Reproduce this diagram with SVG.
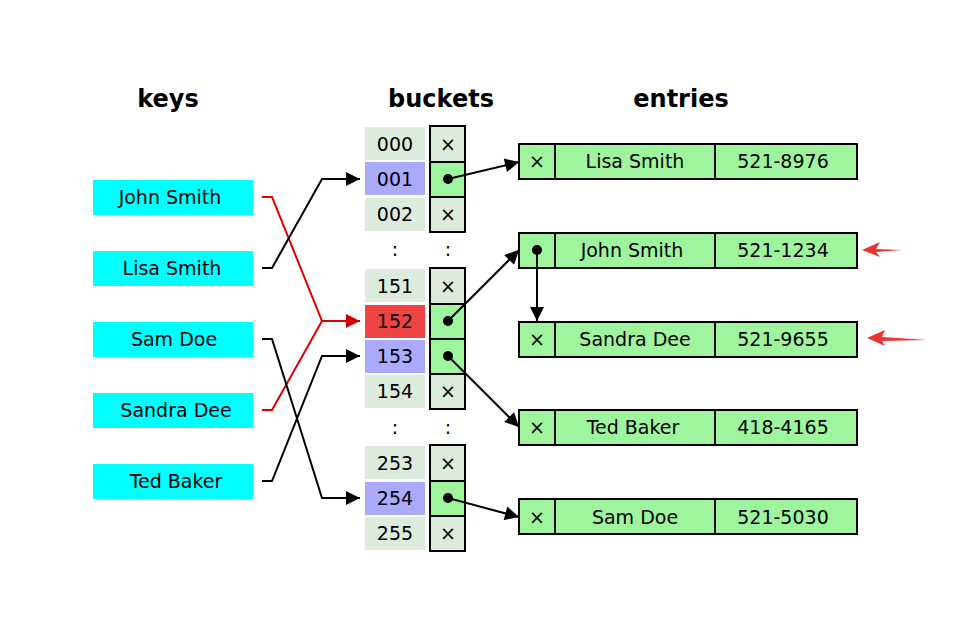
<svg xmlns="http://www.w3.org/2000/svg" width="956" height="617" viewBox="0 0 956 617">
<style>
text{font-family:"DejaVu Sans",sans-serif;font-size:19px;text-anchor:middle;dominant-baseline:central;fill:#000}
.h{font-weight:bold;font-size:24px}
.k{fill:#00ffff}
.b{fill:#dcebdc}.bb{fill:#aaaaff}.br{fill:#ee4444}
.c{fill:#9ef59e;stroke:#000;stroke-width:2}
.l{fill:none;stroke:#000;stroke-width:2}
.r{fill:none;stroke:#dd0000;stroke-width:2}
</style>
<defs>
<marker id="a" viewBox="0 0 10 10" refX="10" refY="5" markerWidth="14" markerHeight="10" markerUnits="userSpaceOnUse" orient="auto"><path d="M0,0L10,5L0,10z" fill="#000"/></marker>
<marker id="ar" viewBox="0 0 10 10" refX="10" refY="5" markerWidth="24" markerHeight="14" markerUnits="userSpaceOnUse" orient="auto"><path d="M0,0L10,5L0,10z" fill="#cc0000"/></marker>
<marker id="ab" viewBox="0 0 10 10" refX="10" refY="5" markerWidth="24" markerHeight="14" markerUnits="userSpaceOnUse" orient="auto"><path d="M0,0L10,5L0,10z" fill="#000"/></marker>
</defs>
<rect width="956" height="617" fill="#fff"/>
<text class="h" x="168" y="99">keys</text>
<text class="h" x="441" y="99">buckets</text>
<text class="h" x="681" y="99">entries</text>
<g id="keys">
<g id="k-john"><rect class="k" x="93" y="180" width="160" height="35"/><text x="170" y="197">John Smith</text></g>
<g id="k-lisa"><rect class="k" x="93" y="251" width="160" height="35"/><text x="172" y="268">Lisa Smith</text></g>
<g id="k-sam"><rect class="k" x="93" y="322" width="160" height="35"/><text x="174" y="339">Sam Doe</text></g>
<g id="k-sandra"><rect class="k" x="93" y="393" width="160" height="35"/><text x="176" y="410">Sandra Dee</text></g>
<g id="k-ted"><rect class="k" x="93" y="464" width="160" height="35"/><text x="176" y="481">Ted Baker</text></g>
</g>
<g id="buckets">
<rect class="b" x="365" y="127" width="60" height="33"/><text x="395" y="144">000</text>
<rect class="bb" x="365" y="162" width="60" height="33"/><text x="395" y="179">001</text>
<rect class="b" x="365" y="198" width="60" height="33"/><text x="395" y="214">002</text>
<text x="395" y="249">:</text><text x="448" y="249">:</text>
<rect class="b" x="365" y="269" width="60" height="33"/><text x="395" y="286">151</text>
<rect class="br" x="365" y="305" width="60" height="33"/><text x="395" y="321">152</text>
<rect class="bb" x="365" y="340" width="60" height="33"/><text x="395" y="356">153</text>
<rect class="b" x="365" y="375" width="60" height="33"/><text x="395" y="391">154</text>
<text x="395" y="427">:</text><text x="448" y="427">:</text>
<rect class="b" x="365" y="446" width="60" height="33"/><text x="395" y="463">253</text>
<rect class="bb" x="365" y="482" width="60" height="33"/><text x="395" y="498">254</text>
<rect class="b" x="365" y="517" width="60" height="33"/><text x="395" y="533">255</text>
</g>
<g id="slots" stroke="#000" stroke-width="2">
<rect x="430" y="126" width="35" height="36" fill="#dcebdc"/><rect x="430" y="162" width="35" height="35" fill="#9ef59e"/><rect x="430" y="197" width="35" height="35" fill="#dcebdc"/>
<rect x="430" y="268" width="35" height="36" fill="#dcebdc"/><rect x="430" y="304" width="35" height="35" fill="#9ef59e"/><rect x="430" y="339" width="35" height="35" fill="#9ef59e"/><rect x="430" y="374" width="35" height="35" fill="#dcebdc"/>
<rect x="430" y="445" width="35" height="36" fill="#dcebdc"/><rect x="430" y="481" width="35" height="35" fill="#9ef59e"/><rect x="430" y="516" width="35" height="35" fill="#dcebdc"/>
</g>
<g id="slotmarks" font-size="18">
<text x="448" y="144">×</text><text x="448" y="214">×</text><text x="448" y="286">×</text><text x="448" y="391">×</text><text x="448" y="463">×</text><text x="448" y="533">×</text>
<circle cx="448" cy="179" r="5"/><circle cx="448" cy="321" r="5"/><circle cx="448" cy="356" r="5"/><circle cx="448" cy="498" r="5"/>
</g>
<g id="entries">
<g id="e-lisa"><rect class="c" x="519" y="144" width="36" height="35"/><rect class="c" x="555" y="144" width="160" height="35"/><rect class="c" x="715" y="144" width="142" height="35"/><text x="537" y="161">×</text><text x="635" y="161">Lisa Smith</text><text x="783" y="161">521-8976</text></g>
<g id="e-john"><rect class="c" x="519" y="233" width="36" height="35"/><rect class="c" x="555" y="233" width="160" height="35"/><rect class="c" x="715" y="233" width="142" height="35"/><circle cx="537" cy="250" r="5"/><text x="632" y="250">John Smith</text><text x="783" y="250">521-1234</text></g>
<g id="e-sandra"><rect class="c" x="519" y="322" width="36" height="35"/><rect class="c" x="555" y="322" width="160" height="35"/><rect class="c" x="715" y="322" width="142" height="35"/><text x="537" y="339">×</text><text x="635" y="339">Sandra Dee</text><text x="783" y="339">521-9655</text></g>
<g id="e-ted"><rect class="c" x="519" y="410" width="36" height="35"/><rect class="c" x="555" y="410" width="160" height="35"/><rect class="c" x="715" y="410" width="142" height="35"/><text x="537" y="427">×</text><text x="633" y="427">Ted Baker</text><text x="783" y="427">418-4165</text></g>
<g id="e-sam"><rect class="c" x="519" y="499" width="36" height="35"/><rect class="c" x="555" y="499" width="160" height="35"/><rect class="c" x="715" y="499" width="142" height="35"/><text x="537" y="517">×</text><text x="635" y="517">Sam Doe</text><text x="783" y="517">521-5030</text></g>
</g>
<g id="connectors">
<path class="r" d="M262,197H272L322,321H360" marker-end="url(#ar)"/>
<path class="r" d="M262,410H272L322,321"/>
<path class="l" d="M262,268H272L322,179H360" marker-end="url(#ab)"/>
<path class="l" d="M262,339H272L322,498H360" marker-end="url(#ab)"/>
<path class="l" d="M262,481H272L322,356H360" marker-end="url(#ab)"/>
<path class="l" d="M448,179L519,162" marker-end="url(#ab)"/>
<path class="l" d="M448,321L519,250" marker-end="url(#ab)"/>
<path class="l" d="M448,356L519,427" marker-end="url(#ab)"/>
<path class="l" d="M448,498L519,517" marker-end="url(#ab)"/>
<path class="l" d="M537,250V321" marker-end="url(#ab)"/>
<path d="M862,250L880,242L876,249L902,250L876,252L880,257z" fill="#ee3333"/>
<path d="M867,338L885,330L882,337L927,340L882,341L885,346z" fill="#ee3333"/>
</g>
</svg>
